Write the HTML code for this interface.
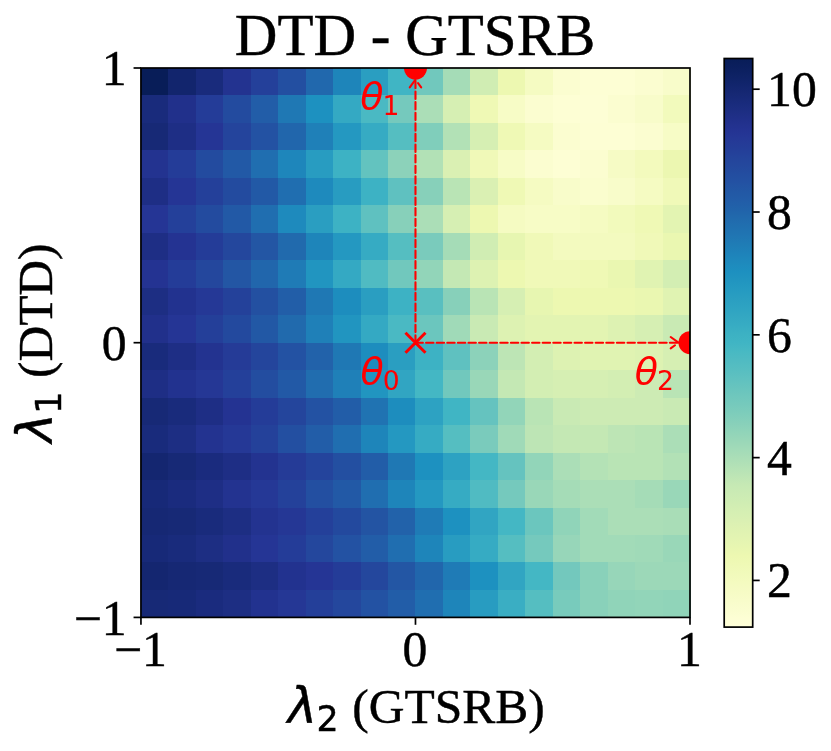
<!DOCTYPE html>
<html><head><meta charset="utf-8"><title>DTD - GTSRB</title>
<style>html,body{margin:0;padding:0;background:#fff}svg{display:block}.s{font-family:"Liberation Serif","Times New Roman",serif;fill:#000;stroke:#000;stroke-width:0.45px}.m{font-family:"DejaVu Sans","Liberation Sans",sans-serif;font-style:italic}.n{font-family:"DejaVu Sans","Liberation Sans",sans-serif;font-style:normal}</style></head><body>
<svg width="831" height="751" viewBox="0 0 831 751">
<rect width="831" height="751" fill="#fff"/>
<defs><clipPath id="ax"><rect x="140.95" y="68.0" width="549.05" height="549.40"/></clipPath><linearGradient id="cb" x1="0" y1="0" x2="0" y2="1"><stop offset="0.0000" stop-color="#081d58"/><stop offset="0.0156" stop-color="#0b1f5e"/><stop offset="0.0312" stop-color="#0e2265"/><stop offset="0.0469" stop-color="#12256d"/><stop offset="0.0625" stop-color="#162874"/><stop offset="0.0781" stop-color="#192b7c"/><stop offset="0.0938" stop-color="#1d2e83"/><stop offset="0.1094" stop-color="#21308b"/><stop offset="0.1250" stop-color="#243392"/><stop offset="0.1406" stop-color="#253896"/><stop offset="0.1562" stop-color="#243d98"/><stop offset="0.1719" stop-color="#24439b"/><stop offset="0.1875" stop-color="#24489d"/><stop offset="0.2031" stop-color="#234da0"/><stop offset="0.2188" stop-color="#2352a3"/><stop offset="0.2344" stop-color="#2258a5"/><stop offset="0.2500" stop-color="#225da8"/><stop offset="0.2656" stop-color="#2163aa"/><stop offset="0.2812" stop-color="#216aad"/><stop offset="0.2969" stop-color="#2070b0"/><stop offset="0.3125" stop-color="#2076b3"/><stop offset="0.3281" stop-color="#1f7db6"/><stop offset="0.3438" stop-color="#1e83ba"/><stop offset="0.3594" stop-color="#1e8abd"/><stop offset="0.3750" stop-color="#1d90c0"/><stop offset="0.3906" stop-color="#2195c0"/><stop offset="0.4062" stop-color="#259ac1"/><stop offset="0.4219" stop-color="#2a9ec1"/><stop offset="0.4375" stop-color="#2ea3c2"/><stop offset="0.4531" stop-color="#33a7c2"/><stop offset="0.4688" stop-color="#37acc3"/><stop offset="0.4844" stop-color="#3cb1c3"/><stop offset="0.5000" stop-color="#40b5c4"/><stop offset="0.5156" stop-color="#48b9c3"/><stop offset="0.5312" stop-color="#50bbc2"/><stop offset="0.5469" stop-color="#57bec1"/><stop offset="0.5625" stop-color="#5fc1c0"/><stop offset="0.5781" stop-color="#67c4be"/><stop offset="0.5938" stop-color="#6fc7bd"/><stop offset="0.6094" stop-color="#76cabc"/><stop offset="0.6250" stop-color="#7ecdbb"/><stop offset="0.6406" stop-color="#87d0ba"/><stop offset="0.6562" stop-color="#90d4b9"/><stop offset="0.6719" stop-color="#99d7b8"/><stop offset="0.6875" stop-color="#a2dbb8"/><stop offset="0.7031" stop-color="#abdeb7"/><stop offset="0.7188" stop-color="#b4e2b6"/><stop offset="0.7344" stop-color="#bde5b5"/><stop offset="0.7500" stop-color="#c6e9b4"/><stop offset="0.7656" stop-color="#cbebb4"/><stop offset="0.7812" stop-color="#d0edb3"/><stop offset="0.7969" stop-color="#d5efb3"/><stop offset="0.8125" stop-color="#daf0b3"/><stop offset="0.8281" stop-color="#dff2b2"/><stop offset="0.8438" stop-color="#e3f4b2"/><stop offset="0.8594" stop-color="#e8f6b1"/><stop offset="0.8750" stop-color="#edf8b1"/><stop offset="0.8906" stop-color="#eff9b6"/><stop offset="0.9062" stop-color="#f1fabb"/><stop offset="0.9219" stop-color="#f4fbc0"/><stop offset="0.9375" stop-color="#f6fbc5"/><stop offset="0.9531" stop-color="#f8fcca"/><stop offset="0.9688" stop-color="#fafdcf"/><stop offset="0.9844" stop-color="#fdfed4"/><stop offset="1.0000" stop-color="#ffffd9"/></linearGradient></defs>
<g shape-rendering="crispEdges">
<rect x="140.95" y="68.00" width="28.05" height="28.07" fill="#081d58"/>
<rect x="168.40" y="68.00" width="28.05" height="28.07" fill="#12256d"/>
<rect x="195.85" y="68.00" width="28.05" height="28.07" fill="#192b7c"/>
<rect x="223.31" y="68.00" width="28.05" height="28.07" fill="#233390"/>
<rect x="250.76" y="68.00" width="28.05" height="28.07" fill="#24409a"/>
<rect x="278.21" y="68.00" width="28.05" height="28.07" fill="#234fa1"/>
<rect x="305.66" y="68.00" width="28.05" height="28.07" fill="#2168ad"/>
<rect x="333.12" y="68.00" width="28.05" height="28.07" fill="#1e85ba"/>
<rect x="360.57" y="68.00" width="28.05" height="28.07" fill="#2a9ec1"/>
<rect x="388.02" y="68.00" width="28.05" height="28.07" fill="#40b5c4"/>
<rect x="415.47" y="68.00" width="28.05" height="28.07" fill="#71c8bd"/>
<rect x="442.93" y="68.00" width="28.05" height="28.07" fill="#a5dcb7"/>
<rect x="470.38" y="68.00" width="28.05" height="28.07" fill="#d0edb3"/>
<rect x="497.83" y="68.00" width="28.05" height="28.07" fill="#edf8b1"/>
<rect x="525.28" y="68.00" width="28.05" height="28.07" fill="#f5fbc2"/>
<rect x="552.74" y="68.00" width="28.05" height="28.07" fill="#fbfdd0"/>
<rect x="580.19" y="68.00" width="28.05" height="28.07" fill="#fdfed4"/>
<rect x="607.64" y="68.00" width="28.05" height="28.07" fill="#fdfed4"/>
<rect x="635.09" y="68.00" width="28.05" height="28.07" fill="#fbfdd0"/>
<rect x="662.55" y="68.00" width="28.05" height="28.07" fill="#f8fcca"/>
<rect x="140.95" y="95.47" width="28.05" height="28.07" fill="#192b7c"/>
<rect x="168.40" y="95.47" width="28.05" height="28.07" fill="#21308b"/>
<rect x="195.85" y="95.47" width="28.05" height="28.07" fill="#243c98"/>
<rect x="223.31" y="95.47" width="28.05" height="28.07" fill="#234b9f"/>
<rect x="250.76" y="95.47" width="28.05" height="28.07" fill="#225da8"/>
<rect x="278.21" y="95.47" width="28.05" height="28.07" fill="#1f78b4"/>
<rect x="305.66" y="95.47" width="28.05" height="28.07" fill="#1d91c0"/>
<rect x="333.12" y="95.47" width="28.05" height="28.07" fill="#34a9c3"/>
<rect x="360.57" y="95.47" width="28.05" height="28.07" fill="#4ab9c3"/>
<rect x="388.02" y="95.47" width="28.05" height="28.07" fill="#75c9bd"/>
<rect x="415.47" y="95.47" width="28.05" height="28.07" fill="#abdeb7"/>
<rect x="442.93" y="95.47" width="28.05" height="28.07" fill="#d6efb3"/>
<rect x="470.38" y="95.47" width="28.05" height="28.07" fill="#eff9b5"/>
<rect x="497.83" y="95.47" width="28.05" height="28.07" fill="#f7fcc6"/>
<rect x="525.28" y="95.47" width="28.05" height="28.07" fill="#fbfdd0"/>
<rect x="552.74" y="95.47" width="28.05" height="28.07" fill="#fdfed4"/>
<rect x="580.19" y="95.47" width="28.05" height="28.07" fill="#fdfed5"/>
<rect x="607.64" y="95.47" width="28.05" height="28.07" fill="#fbfdd0"/>
<rect x="635.09" y="95.47" width="28.05" height="28.07" fill="#f8fcca"/>
<rect x="662.55" y="95.47" width="28.05" height="28.07" fill="#f2fabc"/>
<rect x="140.95" y="122.94" width="28.05" height="28.07" fill="#172976"/>
<rect x="168.40" y="122.94" width="28.05" height="28.07" fill="#1e2e85"/>
<rect x="195.85" y="122.94" width="28.05" height="28.07" fill="#253595"/>
<rect x="223.31" y="122.94" width="28.05" height="28.07" fill="#24449c"/>
<rect x="250.76" y="122.94" width="28.05" height="28.07" fill="#2352a3"/>
<rect x="278.21" y="122.94" width="28.05" height="28.07" fill="#2166ac"/>
<rect x="305.66" y="122.94" width="28.05" height="28.07" fill="#1f80b8"/>
<rect x="333.12" y="122.94" width="28.05" height="28.07" fill="#2498c1"/>
<rect x="360.57" y="122.94" width="28.05" height="28.07" fill="#36abc3"/>
<rect x="388.02" y="122.94" width="28.05" height="28.07" fill="#55bec1"/>
<rect x="415.47" y="122.94" width="28.05" height="28.07" fill="#80cebb"/>
<rect x="442.93" y="122.94" width="28.05" height="28.07" fill="#b2e1b6"/>
<rect x="470.38" y="122.94" width="28.05" height="28.07" fill="#d6efb3"/>
<rect x="497.83" y="122.94" width="28.05" height="28.07" fill="#eff9b5"/>
<rect x="525.28" y="122.94" width="28.05" height="28.07" fill="#f5fbc2"/>
<rect x="552.74" y="122.94" width="28.05" height="28.07" fill="#fbfdd0"/>
<rect x="580.19" y="122.94" width="28.05" height="28.07" fill="#fdfed4"/>
<rect x="607.64" y="122.94" width="28.05" height="28.07" fill="#fdfed4"/>
<rect x="635.09" y="122.94" width="28.05" height="28.07" fill="#fbfdd0"/>
<rect x="662.55" y="122.94" width="28.05" height="28.07" fill="#f7fcc6"/>
<rect x="140.95" y="150.41" width="28.05" height="28.07" fill="#233390"/>
<rect x="168.40" y="150.41" width="28.05" height="28.07" fill="#243c98"/>
<rect x="195.85" y="150.41" width="28.05" height="28.07" fill="#234b9f"/>
<rect x="223.31" y="150.41" width="28.05" height="28.07" fill="#2259a6"/>
<rect x="250.76" y="150.41" width="28.05" height="28.07" fill="#206eb0"/>
<rect x="278.21" y="150.41" width="28.05" height="28.07" fill="#1e86bb"/>
<rect x="305.66" y="150.41" width="28.05" height="28.07" fill="#289cc1"/>
<rect x="333.12" y="150.41" width="28.05" height="28.07" fill="#3db2c4"/>
<rect x="360.57" y="150.41" width="28.05" height="28.07" fill="#63c3bf"/>
<rect x="388.02" y="150.41" width="28.05" height="28.07" fill="#8cd2ba"/>
<rect x="415.47" y="150.41" width="28.05" height="28.07" fill="#b2e1b6"/>
<rect x="442.93" y="150.41" width="28.05" height="28.07" fill="#daf0b3"/>
<rect x="470.38" y="150.41" width="28.05" height="28.07" fill="#f0f9b8"/>
<rect x="497.83" y="150.41" width="28.05" height="28.07" fill="#f7fcc6"/>
<rect x="525.28" y="150.41" width="28.05" height="28.07" fill="#fbfdd0"/>
<rect x="552.74" y="150.41" width="28.05" height="28.07" fill="#fdfed4"/>
<rect x="580.19" y="150.41" width="28.05" height="28.07" fill="#fbfdd0"/>
<rect x="607.64" y="150.41" width="28.05" height="28.07" fill="#f6fbc5"/>
<rect x="635.09" y="150.41" width="28.05" height="28.07" fill="#f3fabd"/>
<rect x="662.55" y="150.41" width="28.05" height="28.07" fill="#ecf7b1"/>
<rect x="140.95" y="177.88" width="28.05" height="28.07" fill="#1e2e85"/>
<rect x="168.40" y="177.88" width="28.05" height="28.07" fill="#253595"/>
<rect x="195.85" y="177.88" width="28.05" height="28.07" fill="#24409a"/>
<rect x="223.31" y="177.88" width="28.05" height="28.07" fill="#234b9f"/>
<rect x="250.76" y="177.88" width="28.05" height="28.07" fill="#2259a6"/>
<rect x="278.21" y="177.88" width="28.05" height="28.07" fill="#206eb0"/>
<rect x="305.66" y="177.88" width="28.05" height="28.07" fill="#1e8abd"/>
<rect x="333.12" y="177.88" width="28.05" height="28.07" fill="#289cc1"/>
<rect x="360.57" y="177.88" width="28.05" height="28.07" fill="#3db2c4"/>
<rect x="388.02" y="177.88" width="28.05" height="28.07" fill="#5fc1c0"/>
<rect x="415.47" y="177.88" width="28.05" height="28.07" fill="#87d0ba"/>
<rect x="442.93" y="177.88" width="28.05" height="28.07" fill="#b9e4b5"/>
<rect x="470.38" y="177.88" width="28.05" height="28.07" fill="#daf0b3"/>
<rect x="497.83" y="177.88" width="28.05" height="28.07" fill="#eff9b5"/>
<rect x="525.28" y="177.88" width="28.05" height="28.07" fill="#f5fbc2"/>
<rect x="552.74" y="177.88" width="28.05" height="28.07" fill="#f8fcca"/>
<rect x="580.19" y="177.88" width="28.05" height="28.07" fill="#fafdce"/>
<rect x="607.64" y="177.88" width="28.05" height="28.07" fill="#f8fcca"/>
<rect x="635.09" y="177.88" width="28.05" height="28.07" fill="#f5fbc2"/>
<rect x="662.55" y="177.88" width="28.05" height="28.07" fill="#f0f9b8"/>
<rect x="140.95" y="205.35" width="28.05" height="28.07" fill="#253595"/>
<rect x="168.40" y="205.35" width="28.05" height="28.07" fill="#24409a"/>
<rect x="195.85" y="205.35" width="28.05" height="28.07" fill="#234b9f"/>
<rect x="223.31" y="205.35" width="28.05" height="28.07" fill="#2259a6"/>
<rect x="250.76" y="205.35" width="28.05" height="28.07" fill="#206eb0"/>
<rect x="278.21" y="205.35" width="28.05" height="28.07" fill="#1e8abd"/>
<rect x="305.66" y="205.35" width="28.05" height="28.07" fill="#2a9ec1"/>
<rect x="333.12" y="205.35" width="28.05" height="28.07" fill="#3db2c4"/>
<rect x="360.57" y="205.35" width="28.05" height="28.07" fill="#5fc1c0"/>
<rect x="388.02" y="205.35" width="28.05" height="28.07" fill="#87d0ba"/>
<rect x="415.47" y="205.35" width="28.05" height="28.07" fill="#abdeb7"/>
<rect x="442.93" y="205.35" width="28.05" height="28.07" fill="#d6efb3"/>
<rect x="470.38" y="205.35" width="28.05" height="28.07" fill="#edf8b1"/>
<rect x="497.83" y="205.35" width="28.05" height="28.07" fill="#f5fbc2"/>
<rect x="525.28" y="205.35" width="28.05" height="28.07" fill="#f7fcc6"/>
<rect x="552.74" y="205.35" width="28.05" height="28.07" fill="#f7fcc6"/>
<rect x="580.19" y="205.35" width="28.05" height="28.07" fill="#f5fbc2"/>
<rect x="607.64" y="205.35" width="28.05" height="28.07" fill="#f2fabc"/>
<rect x="635.09" y="205.35" width="28.05" height="28.07" fill="#eff9b5"/>
<rect x="662.55" y="205.35" width="28.05" height="28.07" fill="#e3f4b2"/>
<rect x="140.95" y="232.82" width="28.05" height="28.07" fill="#1e2e85"/>
<rect x="168.40" y="232.82" width="28.05" height="28.07" fill="#243392"/>
<rect x="195.85" y="232.82" width="28.05" height="28.07" fill="#243c98"/>
<rect x="223.31" y="232.82" width="28.05" height="28.07" fill="#24479d"/>
<rect x="250.76" y="232.82" width="28.05" height="28.07" fill="#2356a4"/>
<rect x="278.21" y="232.82" width="28.05" height="28.07" fill="#216aad"/>
<rect x="305.66" y="232.82" width="28.05" height="28.07" fill="#1e85ba"/>
<rect x="333.12" y="232.82" width="28.05" height="28.07" fill="#2498c1"/>
<rect x="360.57" y="232.82" width="28.05" height="28.07" fill="#36abc3"/>
<rect x="388.02" y="232.82" width="28.05" height="28.07" fill="#55bec1"/>
<rect x="415.47" y="232.82" width="28.05" height="28.07" fill="#7acbbc"/>
<rect x="442.93" y="232.82" width="28.05" height="28.07" fill="#a5dcb7"/>
<rect x="470.38" y="232.82" width="28.05" height="28.07" fill="#d0edb3"/>
<rect x="497.83" y="232.82" width="28.05" height="28.07" fill="#e7f6b1"/>
<rect x="525.28" y="232.82" width="28.05" height="28.07" fill="#f0f9b8"/>
<rect x="552.74" y="232.82" width="28.05" height="28.07" fill="#f3fabf"/>
<rect x="580.19" y="232.82" width="28.05" height="28.07" fill="#f3fabf"/>
<rect x="607.64" y="232.82" width="28.05" height="28.07" fill="#f3fabf"/>
<rect x="635.09" y="232.82" width="28.05" height="28.07" fill="#f0f9b8"/>
<rect x="662.55" y="232.82" width="28.05" height="28.07" fill="#eaf7b1"/>
<rect x="140.95" y="260.29" width="28.05" height="28.07" fill="#243392"/>
<rect x="168.40" y="260.29" width="28.05" height="28.07" fill="#243c98"/>
<rect x="195.85" y="260.29" width="28.05" height="28.07" fill="#24479d"/>
<rect x="223.31" y="260.29" width="28.05" height="28.07" fill="#2356a4"/>
<rect x="250.76" y="260.29" width="28.05" height="28.07" fill="#2166ac"/>
<rect x="278.21" y="260.29" width="28.05" height="28.07" fill="#1f7bb6"/>
<rect x="305.66" y="260.29" width="28.05" height="28.07" fill="#2195c0"/>
<rect x="333.12" y="260.29" width="28.05" height="28.07" fill="#34a9c3"/>
<rect x="360.57" y="260.29" width="28.05" height="28.07" fill="#50bbc2"/>
<rect x="388.02" y="260.29" width="28.05" height="28.07" fill="#71c8bd"/>
<rect x="415.47" y="260.29" width="28.05" height="28.07" fill="#92d5b9"/>
<rect x="442.93" y="260.29" width="28.05" height="28.07" fill="#c4e8b4"/>
<rect x="470.38" y="260.29" width="28.05" height="28.07" fill="#ddf2b2"/>
<rect x="497.83" y="260.29" width="28.05" height="28.07" fill="#edf8b1"/>
<rect x="525.28" y="260.29" width="28.05" height="28.07" fill="#f0f9b8"/>
<rect x="552.74" y="260.29" width="28.05" height="28.07" fill="#f0f9b8"/>
<rect x="580.19" y="260.29" width="28.05" height="28.07" fill="#eff9b5"/>
<rect x="607.64" y="260.29" width="28.05" height="28.07" fill="#eaf7b1"/>
<rect x="635.09" y="260.29" width="28.05" height="28.07" fill="#e0f3b2"/>
<rect x="662.55" y="260.29" width="28.05" height="28.07" fill="#d3eeb3"/>
<rect x="140.95" y="287.76" width="28.05" height="28.07" fill="#1d2e83"/>
<rect x="168.40" y="287.76" width="28.05" height="28.07" fill="#22328f"/>
<rect x="195.85" y="287.76" width="28.05" height="28.07" fill="#253896"/>
<rect x="223.31" y="287.76" width="28.05" height="28.07" fill="#24419a"/>
<rect x="250.76" y="287.76" width="28.05" height="28.07" fill="#2350a1"/>
<rect x="278.21" y="287.76" width="28.05" height="28.07" fill="#225ea8"/>
<rect x="305.66" y="287.76" width="28.05" height="28.07" fill="#1f78b4"/>
<rect x="333.12" y="287.76" width="28.05" height="28.07" fill="#1d8dbe"/>
<rect x="360.57" y="287.76" width="28.05" height="28.07" fill="#2a9ec1"/>
<rect x="388.02" y="287.76" width="28.05" height="28.07" fill="#3db2c4"/>
<rect x="415.47" y="287.76" width="28.05" height="28.07" fill="#59bfc0"/>
<rect x="442.93" y="287.76" width="28.05" height="28.07" fill="#87d0ba"/>
<rect x="470.38" y="287.76" width="28.05" height="28.07" fill="#b9e4b5"/>
<rect x="497.83" y="287.76" width="28.05" height="28.07" fill="#d6efb3"/>
<rect x="525.28" y="287.76" width="28.05" height="28.07" fill="#e7f6b1"/>
<rect x="552.74" y="287.76" width="28.05" height="28.07" fill="#edf8b1"/>
<rect x="580.19" y="287.76" width="28.05" height="28.07" fill="#edf8b1"/>
<rect x="607.64" y="287.76" width="28.05" height="28.07" fill="#edf8b1"/>
<rect x="635.09" y="287.76" width="28.05" height="28.07" fill="#eaf7b1"/>
<rect x="662.55" y="287.76" width="28.05" height="28.07" fill="#e0f3b2"/>
<rect x="140.95" y="315.23" width="28.05" height="28.07" fill="#21308b"/>
<rect x="168.40" y="315.23" width="28.05" height="28.07" fill="#253595"/>
<rect x="195.85" y="315.23" width="28.05" height="28.07" fill="#243f99"/>
<rect x="223.31" y="315.23" width="28.05" height="28.07" fill="#23499e"/>
<rect x="250.76" y="315.23" width="28.05" height="28.07" fill="#2258a5"/>
<rect x="278.21" y="315.23" width="28.05" height="28.07" fill="#216aad"/>
<rect x="305.66" y="315.23" width="28.05" height="28.07" fill="#1f80b8"/>
<rect x="333.12" y="315.23" width="28.05" height="28.07" fill="#2195c0"/>
<rect x="360.57" y="315.23" width="28.05" height="28.07" fill="#34a9c3"/>
<rect x="388.02" y="315.23" width="28.05" height="28.07" fill="#4ab9c3"/>
<rect x="415.47" y="315.23" width="28.05" height="28.07" fill="#6bc6be"/>
<rect x="442.93" y="315.23" width="28.05" height="28.07" fill="#a0dab8"/>
<rect x="470.38" y="315.23" width="28.05" height="28.07" fill="#c9eab4"/>
<rect x="497.83" y="315.23" width="28.05" height="28.07" fill="#ddf2b2"/>
<rect x="525.28" y="315.23" width="28.05" height="28.07" fill="#e3f4b2"/>
<rect x="552.74" y="315.23" width="28.05" height="28.07" fill="#e3f4b2"/>
<rect x="580.19" y="315.23" width="28.05" height="28.07" fill="#e3f4b2"/>
<rect x="607.64" y="315.23" width="28.05" height="28.07" fill="#ddf2b2"/>
<rect x="635.09" y="315.23" width="28.05" height="28.07" fill="#d6efb3"/>
<rect x="662.55" y="315.23" width="28.05" height="28.07" fill="#c9eab4"/>
<rect x="140.95" y="342.70" width="28.05" height="28.07" fill="#192b7c"/>
<rect x="168.40" y="342.70" width="28.05" height="28.07" fill="#1e2e85"/>
<rect x="195.85" y="342.70" width="28.05" height="28.07" fill="#233390"/>
<rect x="223.31" y="342.70" width="28.05" height="28.07" fill="#253b97"/>
<rect x="250.76" y="342.70" width="28.05" height="28.07" fill="#24459c"/>
<rect x="278.21" y="342.70" width="28.05" height="28.07" fill="#2352a3"/>
<rect x="305.66" y="342.70" width="28.05" height="28.07" fill="#2262aa"/>
<rect x="333.12" y="342.70" width="28.05" height="28.07" fill="#1f78b4"/>
<rect x="360.57" y="342.70" width="28.05" height="28.07" fill="#1d8dbe"/>
<rect x="388.02" y="342.70" width="28.05" height="28.07" fill="#2a9ec1"/>
<rect x="415.47" y="342.70" width="28.05" height="28.07" fill="#3db2c4"/>
<rect x="442.93" y="342.70" width="28.05" height="28.07" fill="#5fc1c0"/>
<rect x="470.38" y="342.70" width="28.05" height="28.07" fill="#8cd2ba"/>
<rect x="497.83" y="342.70" width="28.05" height="28.07" fill="#bde5b5"/>
<rect x="525.28" y="342.70" width="28.05" height="28.07" fill="#d3eeb3"/>
<rect x="552.74" y="342.70" width="28.05" height="28.07" fill="#ddf2b2"/>
<rect x="580.19" y="342.70" width="28.05" height="28.07" fill="#e0f3b2"/>
<rect x="607.64" y="342.70" width="28.05" height="28.07" fill="#e0f3b2"/>
<rect x="635.09" y="342.70" width="28.05" height="28.07" fill="#ddf2b2"/>
<rect x="662.55" y="342.70" width="28.05" height="28.07" fill="#d6efb3"/>
<rect x="140.95" y="370.17" width="28.05" height="28.07" fill="#1e2e85"/>
<rect x="168.40" y="370.17" width="28.05" height="28.07" fill="#22328f"/>
<rect x="195.85" y="370.17" width="28.05" height="28.07" fill="#253795"/>
<rect x="223.31" y="370.17" width="28.05" height="28.07" fill="#24409a"/>
<rect x="250.76" y="370.17" width="28.05" height="28.07" fill="#234da0"/>
<rect x="278.21" y="370.17" width="28.05" height="28.07" fill="#2259a6"/>
<rect x="305.66" y="370.17" width="28.05" height="28.07" fill="#216daf"/>
<rect x="333.12" y="370.17" width="28.05" height="28.07" fill="#1f80b8"/>
<rect x="360.57" y="370.17" width="28.05" height="28.07" fill="#2195c0"/>
<rect x="388.02" y="370.17" width="28.05" height="28.07" fill="#31a5c2"/>
<rect x="415.47" y="370.17" width="28.05" height="28.07" fill="#44b7c4"/>
<rect x="442.93" y="370.17" width="28.05" height="28.07" fill="#71c8bd"/>
<rect x="470.38" y="370.17" width="28.05" height="28.07" fill="#99d7b8"/>
<rect x="497.83" y="370.17" width="28.05" height="28.07" fill="#c4e8b4"/>
<rect x="525.28" y="370.17" width="28.05" height="28.07" fill="#d3eeb3"/>
<rect x="552.74" y="370.17" width="28.05" height="28.07" fill="#d6efb3"/>
<rect x="580.19" y="370.17" width="28.05" height="28.07" fill="#d6efb3"/>
<rect x="607.64" y="370.17" width="28.05" height="28.07" fill="#d3eeb3"/>
<rect x="635.09" y="370.17" width="28.05" height="28.07" fill="#cdebb4"/>
<rect x="662.55" y="370.17" width="28.05" height="28.07" fill="#b9e4b5"/>
<rect x="140.95" y="397.64" width="28.05" height="28.07" fill="#172976"/>
<rect x="168.40" y="397.64" width="28.05" height="28.07" fill="#192b7c"/>
<rect x="195.85" y="397.64" width="28.05" height="28.07" fill="#1e2e85"/>
<rect x="223.31" y="397.64" width="28.05" height="28.07" fill="#243392"/>
<rect x="250.76" y="397.64" width="28.05" height="28.07" fill="#243c98"/>
<rect x="278.21" y="397.64" width="28.05" height="28.07" fill="#24459c"/>
<rect x="305.66" y="397.64" width="28.05" height="28.07" fill="#2352a3"/>
<rect x="333.12" y="397.64" width="28.05" height="28.07" fill="#225da8"/>
<rect x="360.57" y="397.64" width="28.05" height="28.07" fill="#2073b2"/>
<rect x="388.02" y="397.64" width="28.05" height="28.07" fill="#1d8dbe"/>
<rect x="415.47" y="397.64" width="28.05" height="28.07" fill="#2da2c2"/>
<rect x="442.93" y="397.64" width="28.05" height="28.07" fill="#40b5c4"/>
<rect x="470.38" y="397.64" width="28.05" height="28.07" fill="#65c3bf"/>
<rect x="497.83" y="397.64" width="28.05" height="28.07" fill="#92d5b9"/>
<rect x="525.28" y="397.64" width="28.05" height="28.07" fill="#b9e4b5"/>
<rect x="552.74" y="397.64" width="28.05" height="28.07" fill="#c9eab4"/>
<rect x="580.19" y="397.64" width="28.05" height="28.07" fill="#cdebb4"/>
<rect x="607.64" y="397.64" width="28.05" height="28.07" fill="#cdebb4"/>
<rect x="635.09" y="397.64" width="28.05" height="28.07" fill="#cdebb4"/>
<rect x="662.55" y="397.64" width="28.05" height="28.07" fill="#c9eab4"/>
<rect x="140.95" y="425.11" width="28.05" height="28.07" fill="#192b7c"/>
<rect x="168.40" y="425.11" width="28.05" height="28.07" fill="#1d2e83"/>
<rect x="195.85" y="425.11" width="28.05" height="28.07" fill="#233390"/>
<rect x="223.31" y="425.11" width="28.05" height="28.07" fill="#253896"/>
<rect x="250.76" y="425.11" width="28.05" height="28.07" fill="#24419a"/>
<rect x="278.21" y="425.11" width="28.05" height="28.07" fill="#234fa1"/>
<rect x="305.66" y="425.11" width="28.05" height="28.07" fill="#225da8"/>
<rect x="333.12" y="425.11" width="28.05" height="28.07" fill="#206eb0"/>
<rect x="360.57" y="425.11" width="28.05" height="28.07" fill="#1e85ba"/>
<rect x="388.02" y="425.11" width="28.05" height="28.07" fill="#2498c1"/>
<rect x="415.47" y="425.11" width="28.05" height="28.07" fill="#36abc3"/>
<rect x="442.93" y="425.11" width="28.05" height="28.07" fill="#55bec1"/>
<rect x="470.38" y="425.11" width="28.05" height="28.07" fill="#7acbbc"/>
<rect x="497.83" y="425.11" width="28.05" height="28.07" fill="#a0dab8"/>
<rect x="525.28" y="425.11" width="28.05" height="28.07" fill="#bde5b5"/>
<rect x="552.74" y="425.11" width="28.05" height="28.07" fill="#c4e8b4"/>
<rect x="580.19" y="425.11" width="28.05" height="28.07" fill="#c4e8b4"/>
<rect x="607.64" y="425.11" width="28.05" height="28.07" fill="#bde5b5"/>
<rect x="635.09" y="425.11" width="28.05" height="28.07" fill="#b9e4b5"/>
<rect x="662.55" y="425.11" width="28.05" height="28.07" fill="#abdeb7"/>
<rect x="140.95" y="452.58" width="28.05" height="28.07" fill="#142670"/>
<rect x="168.40" y="452.58" width="28.05" height="28.07" fill="#172976"/>
<rect x="195.85" y="452.58" width="28.05" height="28.07" fill="#1a2b7e"/>
<rect x="223.31" y="452.58" width="28.05" height="28.07" fill="#1e2e85"/>
<rect x="250.76" y="452.58" width="28.05" height="28.07" fill="#233390"/>
<rect x="278.21" y="452.58" width="28.05" height="28.07" fill="#253b97"/>
<rect x="305.66" y="452.58" width="28.05" height="28.07" fill="#24449c"/>
<rect x="333.12" y="452.58" width="28.05" height="28.07" fill="#234fa1"/>
<rect x="360.57" y="452.58" width="28.05" height="28.07" fill="#225da8"/>
<rect x="388.02" y="452.58" width="28.05" height="28.07" fill="#1f78b4"/>
<rect x="415.47" y="452.58" width="28.05" height="28.07" fill="#1d91c0"/>
<rect x="442.93" y="452.58" width="28.05" height="28.07" fill="#2da2c2"/>
<rect x="470.38" y="452.58" width="28.05" height="28.07" fill="#44b7c4"/>
<rect x="497.83" y="452.58" width="28.05" height="28.07" fill="#65c3bf"/>
<rect x="525.28" y="452.58" width="28.05" height="28.07" fill="#92d5b9"/>
<rect x="552.74" y="452.58" width="28.05" height="28.07" fill="#abdeb7"/>
<rect x="580.19" y="452.58" width="28.05" height="28.07" fill="#b4e2b6"/>
<rect x="607.64" y="452.58" width="28.05" height="28.07" fill="#b9e4b5"/>
<rect x="635.09" y="452.58" width="28.05" height="28.07" fill="#b9e4b5"/>
<rect x="662.55" y="452.58" width="28.05" height="28.07" fill="#b2e1b6"/>
<rect x="140.95" y="480.05" width="28.05" height="28.07" fill="#172978"/>
<rect x="168.40" y="480.05" width="28.05" height="28.07" fill="#1a2b7e"/>
<rect x="195.85" y="480.05" width="28.05" height="28.07" fill="#1e2e85"/>
<rect x="223.31" y="480.05" width="28.05" height="28.07" fill="#233390"/>
<rect x="250.76" y="480.05" width="28.05" height="28.07" fill="#253896"/>
<rect x="278.21" y="480.05" width="28.05" height="28.07" fill="#24419a"/>
<rect x="305.66" y="480.05" width="28.05" height="28.07" fill="#234fa1"/>
<rect x="333.12" y="480.05" width="28.05" height="28.07" fill="#2259a6"/>
<rect x="360.57" y="480.05" width="28.05" height="28.07" fill="#206eb0"/>
<rect x="388.02" y="480.05" width="28.05" height="28.07" fill="#1e85ba"/>
<rect x="415.47" y="480.05" width="28.05" height="28.07" fill="#2498c1"/>
<rect x="442.93" y="480.05" width="28.05" height="28.07" fill="#36abc3"/>
<rect x="470.38" y="480.05" width="28.05" height="28.07" fill="#50bbc2"/>
<rect x="497.83" y="480.05" width="28.05" height="28.07" fill="#75c9bd"/>
<rect x="525.28" y="480.05" width="28.05" height="28.07" fill="#99d7b8"/>
<rect x="552.74" y="480.05" width="28.05" height="28.07" fill="#a5dcb7"/>
<rect x="580.19" y="480.05" width="28.05" height="28.07" fill="#abdeb7"/>
<rect x="607.64" y="480.05" width="28.05" height="28.07" fill="#abdeb7"/>
<rect x="635.09" y="480.05" width="28.05" height="28.07" fill="#a5dcb7"/>
<rect x="662.55" y="480.05" width="28.05" height="28.07" fill="#99d7b8"/>
<rect x="140.95" y="507.52" width="28.05" height="28.07" fill="#162874"/>
<rect x="168.40" y="507.52" width="28.05" height="28.07" fill="#172976"/>
<rect x="195.85" y="507.52" width="28.05" height="28.07" fill="#192b7c"/>
<rect x="223.31" y="507.52" width="28.05" height="28.07" fill="#1d2e83"/>
<rect x="250.76" y="507.52" width="28.05" height="28.07" fill="#233390"/>
<rect x="278.21" y="507.52" width="28.05" height="28.07" fill="#253795"/>
<rect x="305.66" y="507.52" width="28.05" height="28.07" fill="#24409a"/>
<rect x="333.12" y="507.52" width="28.05" height="28.07" fill="#23499e"/>
<rect x="360.57" y="507.52" width="28.05" height="28.07" fill="#2354a3"/>
<rect x="388.02" y="507.52" width="28.05" height="28.07" fill="#2262aa"/>
<rect x="415.47" y="507.52" width="28.05" height="28.07" fill="#1f7bb6"/>
<rect x="442.93" y="507.52" width="28.05" height="28.07" fill="#1d91c0"/>
<rect x="470.38" y="507.52" width="28.05" height="28.07" fill="#31a5c2"/>
<rect x="497.83" y="507.52" width="28.05" height="28.07" fill="#44b7c4"/>
<rect x="525.28" y="507.52" width="28.05" height="28.07" fill="#6bc6be"/>
<rect x="552.74" y="507.52" width="28.05" height="28.07" fill="#90d4b9"/>
<rect x="580.19" y="507.52" width="28.05" height="28.07" fill="#a2dbb8"/>
<rect x="607.64" y="507.52" width="28.05" height="28.07" fill="#abdeb7"/>
<rect x="635.09" y="507.52" width="28.05" height="28.07" fill="#abdeb7"/>
<rect x="662.55" y="507.52" width="28.05" height="28.07" fill="#a9ddb7"/>
<rect x="140.95" y="534.99" width="28.05" height="28.07" fill="#172978"/>
<rect x="168.40" y="534.99" width="28.05" height="28.07" fill="#192b7c"/>
<rect x="195.85" y="534.99" width="28.05" height="28.07" fill="#1d2e83"/>
<rect x="223.31" y="534.99" width="28.05" height="28.07" fill="#21308b"/>
<rect x="250.76" y="534.99" width="28.05" height="28.07" fill="#253595"/>
<rect x="278.21" y="534.99" width="28.05" height="28.07" fill="#243c98"/>
<rect x="305.66" y="534.99" width="28.05" height="28.07" fill="#24479d"/>
<rect x="333.12" y="534.99" width="28.05" height="28.07" fill="#2352a3"/>
<rect x="360.57" y="534.99" width="28.05" height="28.07" fill="#225da8"/>
<rect x="388.02" y="534.99" width="28.05" height="28.07" fill="#206eb0"/>
<rect x="415.47" y="534.99" width="28.05" height="28.07" fill="#1e85ba"/>
<rect x="442.93" y="534.99" width="28.05" height="28.07" fill="#289cc1"/>
<rect x="470.38" y="534.99" width="28.05" height="28.07" fill="#36abc3"/>
<rect x="497.83" y="534.99" width="28.05" height="28.07" fill="#55bec1"/>
<rect x="525.28" y="534.99" width="28.05" height="28.07" fill="#75c9bd"/>
<rect x="552.74" y="534.99" width="28.05" height="28.07" fill="#97d6b9"/>
<rect x="580.19" y="534.99" width="28.05" height="28.07" fill="#a2dbb8"/>
<rect x="607.64" y="534.99" width="28.05" height="28.07" fill="#a2dbb8"/>
<rect x="635.09" y="534.99" width="28.05" height="28.07" fill="#a0dab8"/>
<rect x="662.55" y="534.99" width="28.05" height="28.07" fill="#99d7b8"/>
<rect x="140.95" y="562.46" width="28.05" height="28.07" fill="#142670"/>
<rect x="168.40" y="562.46" width="28.05" height="28.07" fill="#162874"/>
<rect x="195.85" y="562.46" width="28.05" height="28.07" fill="#172976"/>
<rect x="223.31" y="562.46" width="28.05" height="28.07" fill="#192b7c"/>
<rect x="250.76" y="562.46" width="28.05" height="28.07" fill="#1d2e83"/>
<rect x="278.21" y="562.46" width="28.05" height="28.07" fill="#22328f"/>
<rect x="305.66" y="562.46" width="28.05" height="28.07" fill="#253595"/>
<rect x="333.12" y="562.46" width="28.05" height="28.07" fill="#243c98"/>
<rect x="360.57" y="562.46" width="28.05" height="28.07" fill="#24479d"/>
<rect x="388.02" y="562.46" width="28.05" height="28.07" fill="#2356a4"/>
<rect x="415.47" y="562.46" width="28.05" height="28.07" fill="#2166ac"/>
<rect x="442.93" y="562.46" width="28.05" height="28.07" fill="#1f7bb6"/>
<rect x="470.38" y="562.46" width="28.05" height="28.07" fill="#1d91c0"/>
<rect x="497.83" y="562.46" width="28.05" height="28.07" fill="#31a5c2"/>
<rect x="525.28" y="562.46" width="28.05" height="28.07" fill="#44b7c4"/>
<rect x="552.74" y="562.46" width="28.05" height="28.07" fill="#73c8bd"/>
<rect x="580.19" y="562.46" width="28.05" height="28.07" fill="#89d1ba"/>
<rect x="607.64" y="562.46" width="28.05" height="28.07" fill="#97d6b9"/>
<rect x="635.09" y="562.46" width="28.05" height="28.07" fill="#9cd8b8"/>
<rect x="662.55" y="562.46" width="28.05" height="28.07" fill="#9cd8b8"/>
<rect x="140.95" y="589.93" width="28.05" height="28.07" fill="#172976"/>
<rect x="168.40" y="589.93" width="28.05" height="28.07" fill="#172978"/>
<rect x="195.85" y="589.93" width="28.05" height="28.07" fill="#1a2b7e"/>
<rect x="223.31" y="589.93" width="28.05" height="28.07" fill="#1d2e83"/>
<rect x="250.76" y="589.93" width="28.05" height="28.07" fill="#22328f"/>
<rect x="278.21" y="589.93" width="28.05" height="28.07" fill="#253795"/>
<rect x="305.66" y="589.93" width="28.05" height="28.07" fill="#243f99"/>
<rect x="333.12" y="589.93" width="28.05" height="28.07" fill="#24479d"/>
<rect x="360.57" y="589.93" width="28.05" height="28.07" fill="#2352a3"/>
<rect x="388.02" y="589.93" width="28.05" height="28.07" fill="#225da8"/>
<rect x="415.47" y="589.93" width="28.05" height="28.07" fill="#206eb0"/>
<rect x="442.93" y="589.93" width="28.05" height="28.07" fill="#1e85ba"/>
<rect x="470.38" y="589.93" width="28.05" height="28.07" fill="#289cc1"/>
<rect x="497.83" y="589.93" width="28.05" height="28.07" fill="#3aaec3"/>
<rect x="525.28" y="589.93" width="28.05" height="28.07" fill="#55bec1"/>
<rect x="552.74" y="589.93" width="28.05" height="28.07" fill="#78cbbc"/>
<rect x="580.19" y="589.93" width="28.05" height="28.07" fill="#89d1ba"/>
<rect x="607.64" y="589.93" width="28.05" height="28.07" fill="#90d4b9"/>
<rect x="635.09" y="589.93" width="28.05" height="28.07" fill="#92d5b9"/>
<rect x="662.55" y="589.93" width="28.05" height="28.07" fill="#90d4b9"/>
</g>
<g clip-path="url(#ax)" fill="#ff0000"><circle cx="415.48" cy="68.10" r="11.5"/><circle cx="690.00" cy="342.70" r="11.5"/></g>
<g stroke="#ff0000" stroke-width="2.1" fill="none" stroke-linecap="round" stroke-linejoin="round">
<path d="M415.48 342.70V79.50" stroke-dasharray="7.4 3.2"/>
<path d="M409.78 87.30L415.48 79.50"/><path d="M421.18 87.30L418.04 83.01"/>
<path d="M415.48 342.70H678.50" stroke-dasharray="7.4 3.2"/>
<path d="M670.70 337.00L678.50 342.70"/><path d="M670.70 348.40L674.99 345.26"/>
</g>
<path d="M405.48 332.70L425.48 352.70M405.48 352.70L425.48 332.70" stroke="#ff0000" stroke-width="3" fill="none"/>
<text x="360.2" y="109" font-size="38" fill="#ff0000"><tspan class="m">θ</tspan><tspan class="n" font-size="26.6" dy="6" dx="-0.9">1</tspan></text>
<text x="360.5" y="384.1" font-size="38" fill="#ff0000"><tspan class="m">θ</tspan><tspan class="n" font-size="26.6" dy="6" dx="-0.9">0</tspan></text>
<text x="634.7" y="384.1" font-size="38" fill="#ff0000"><tspan class="m">θ</tspan><tspan class="n" font-size="26.6" dy="6" dx="-0.9">2</tspan></text>
<rect x="140.95" y="68.0" width="549.05" height="549.40" fill="none" stroke="#000" stroke-width="1.7"/>
<g stroke="#000" stroke-width="1.7">
<path d="M140.95 617.4v7.4"/>
<path d="M415.48 617.4v7.4"/>
<path d="M690.00 617.4v7.4"/>
<path d="M140.95 68.00h-7.4"/>
<path d="M140.95 342.70h-7.4"/>
<path d="M140.95 617.40h-7.4"/>
</g>
<text class="s" x="140.45" y="666.1" font-size="49.7" text-anchor="middle">−1</text>
<text class="s" x="414.98" y="666.1" font-size="49.7" text-anchor="middle">0</text>
<text class="s" x="689.50" y="666.1" font-size="49.7" text-anchor="middle">1</text>
<text class="s" x="126.6" y="85.40" font-size="49.7" text-anchor="end">1</text>
<text class="s" x="126.6" y="360.10" font-size="49.7" text-anchor="end">0</text>
<text class="s" x="126.6" y="634.80" font-size="49.7" text-anchor="end">−1</text>
<text class="s" x="415.08" y="55.4" font-size="59" text-anchor="middle">DTD - GTSRB</text>
<text class="s" x="287.7" y="722.5" font-size="49.5"><tspan class="m">λ</tspan><tspan class="n" font-size="34.8" dy="8.2" dx="-0.5">2</tspan><tspan dy="-8.2" dx="1.2"> (GTSRB)</tspan></text>
<text class="s" transform="translate(52.3,442.6) rotate(-90)" font-size="49.5"><tspan class="m">λ</tspan><tspan class="n" font-size="34.8" dy="8.2" dx="-0.5">1</tspan><tspan dy="-8.2" dx="1.2"> (DTD)</tspan></text>
<rect x="724.2" y="58.5" width="28.50" height="568.60" fill="url(#cb)" stroke="#000" stroke-width="1.7"/>
<g stroke="#000" stroke-width="1.7">
<path d="M752.7 580.43h7.0"/>
<path d="M752.7 457.63h7.0"/>
<path d="M752.7 334.82h7.0"/>
<path d="M752.7 212.01h7.0"/>
<path d="M752.7 89.20h7.0"/>
</g>
<text class="s" x="767.1" y="597.43" font-size="49.7">2</text>
<text class="s" x="767.1" y="474.63" font-size="49.7">4</text>
<text class="s" x="767.1" y="351.82" font-size="49.7">6</text>
<text class="s" x="767.1" y="229.01" font-size="49.7">8</text>
<text class="s" x="767.1" y="106.20" font-size="49.7">10</text>
</svg></body></html>
